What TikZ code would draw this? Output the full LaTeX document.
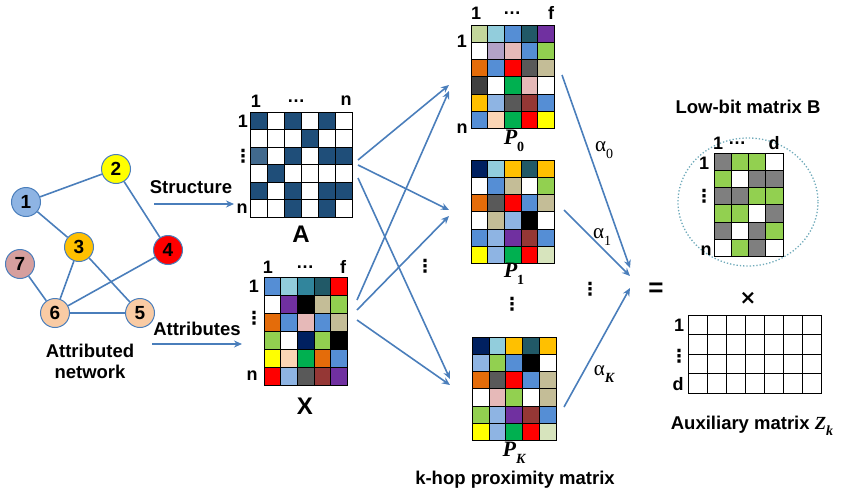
\documentclass[tikz,border=0pt]{standalone}
\usepackage{fontspec}
\setmainfont{Liberation Sans}
\newfontfamily\srf{Liberation Serif}
\newfontfamily\dv{DejaVu Sans}
\usetikzlibrary{arrows.meta,calc}
\definecolor{arr}{HTML}{4A7EBB}
\definecolor{dk}{HTML}{1F4E79}
\definecolor{cr}{HTML}{C3D69B}
\definecolor{lb}{HTML}{92CDDC}
\definecolor{mb}{HTML}{558ED5}
\definecolor{te}{HTML}{215967}
\definecolor{tt}{HTML}{31859C}
\definecolor{pu}{HTML}{7030A0}
\definecolor{wh}{HTML}{FFFFFF}
\definecolor{la}{HTML}{B3A2C7}
\definecolor{pk}{HTML}{E6B9B8}
\definecolor{li}{HTML}{92D050}
\definecolor{or}{HTML}{E46C0A}
\definecolor{rd}{HTML}{FF0000}
\definecolor{dg}{HTML}{595959}
\definecolor{ta}{HTML}{C4BD97}
\definecolor{ch}{HTML}{404040}
\definecolor{gr}{HTML}{00B050}
\definecolor{go}{HTML}{FFC000}
\definecolor{sk}{HTML}{8EB4E3}
\definecolor{pe}{HTML}{FBD5B5}
\definecolor{na}{HTML}{002060}
\definecolor{bk}{HTML}{000000}
\definecolor{br}{HTML}{953735}
\definecolor{ye}{HTML}{FFFF00}
\definecolor{cm}{HTML}{D7E4BD}
\definecolor{gy}{HTML}{7F7F7F}
\newcommand\drawmat[6]{%
  \foreach \rowl [count=\rr] in {#6} {
    \foreach \cc [count=\kk] in \rowl {
      \filldraw[fill=\cc,draw=black,line width=0.6pt] ({#2+(\kk-1)*#4},{#3+(\rr-1)*#5}) rectangle ++(#4,#5);
    }
  }
  \node[inner sep=0,minimum width=1pt,minimum height=1pt] (#1) at (#2,#3) {};
}
\newcommand\myvd{{\dv\bfseries ⋮}}
\newcommand\bsub[2]{{\srf\bfseries\itshape #1}\raisebox{-0.3em}{\srf\bfseries\fontsize{14}{14}\selectfont #2}}
\newcommand\bsubi[2]{{\srf\bfseries\itshape #1}\raisebox{-0.3em}{\srf\bfseries\itshape\fontsize{14}{14}\selectfont #2}}
\newcommand\asub[2]{{\srf #1}\raisebox{-0.3em}{\srf\fontsize{14}{14}\selectfont #2}}
\tikzset{
  gn/.style={circle,draw=arr,line width=1pt,minimum size=29pt,inner sep=0,font=\bfseries\fontsize{19}{21}\selectfont},
  ge/.style={arr,line width=1.6pt},
  ar/.style={arr,line width=1.6pt,-{Stealth[length=8pt,width=7pt]}},
  lab/.style={font=\bfseries\fontsize{18.5}{21}\selectfont,inner sep=1pt},
  idx/.style={font=\bfseries\fontsize{18}{20}\selectfont,inner sep=0},
  pl/.style={font=\fontsize{22}{24}\selectfont},
  al/.style={font=\fontsize{21}{23}\selectfont},
}
\begin{document}
\begin{tikzpicture}[x=1pt,y=-1pt]
\useasboundingbox (0,0) rectangle (846,498);
% graph
\node[gn,fill=sk] (n1) at (26,202) {1};
\node[gn,fill=ye] (n2) at (116,169) {2};
\node[gn,fill=go] (n3) at (79,247) {3};
\node[gn,fill=rd] (n4) at (168,250) {4};
\node[gn,fill=pk!80!br] (n7) at (20,264) {7};
\node[gn,fill=pe!90!or] (n6) at (55,313) {6};
\node[gn,fill=pe!90!or] (n5) at (140,313) {5};
\draw[ge] (n1)--(n2); \draw[ge] (n1)--(n3); \draw[ge] (n2)--(n4);
\draw[ge] (n3)--(n6); \draw[ge] (n3)--(n5); \draw[ge] (n4)--(n6);
\draw[ge] (n6)--(n5); \draw[ge] (n7)--(n6);
\node[lab,align=center] (an) at (90,361) {Attributed\\network};
\coordinate (s0) at (154,204); \coordinate (s1) at (234,204);
\draw[ar] (s0)--(s1);
\node[lab] (st) at (191,187) {Structure};
\coordinate (t0) at (152,344); \coordinate (t1) at (242,344);
\draw[ar] (t0)--(t1);
\node[lab] (at) at (197,329) {Attributes};
% A
\drawmat{A}{250}{112}{17}{17.5}{{dk,wh,dk,wh,dk,wh},{wh,wh,wh,dk,wh,wh},{dk!85!wh,wh,dk,wh,dk,dk},{wh,dk,wh,wh,wh,wh},{dk,wh,dk,wh,dk,dk},{wh,wh,dk,wh,dk,wh}}
\node[idx] (a1) at (256,101) {1}; \node[idx] (a2) at (296,101) {\dots}; \node[idx] (a3) at (346,101) {n};
\node[idx] (a4) at (243,121) {1}; \node[idx] (a5) at (243,156) {\myvd}; \node[idx] (a6) at (242,209) {n};
\node[font=\bfseries\fontsize{24}{26}\selectfont] (Al) at (301,234) {A};
% X
\drawmat{X}{264}{277}{16.6}{18}{{mb,lb,tt,te,rd},{wh,pu,bk,ta,li},{or,mb,pk,mb,ta},{li,wh,na,li,bk},{ye,pe,gr,or,mb},{rd,sk,dg,br,pu}}
\node[idx] (x1) at (268,267) {1}; \node[idx] (x2) at (305,267) {\dots}; \node[idx] (x3) at (343,267) {f};
\node[idx] (x4) at (254,286) {1}; \node[idx] (x5) at (254,318) {\myvd}; \node[idx] (x6) at (252,376) {n};
\node[font=\bfseries\fontsize{24}{26}\selectfont] (Xl) at (305,406) {X};
% P0
\drawmat{P0}{471}{25}{16.6}{17.2}{{cr,lb,mb,te,pu},{wh,la,pk,mb,li},{or,mb,rd,dg,ta},{ch,wh,gr,pk,wh},{go,sk,dg,br,mb},{mb,pe,gr,rd,ye}}
\node[idx] (p1) at (476,13) {1}; \node[idx] (p2) at (512,13) {\dots}; \node[idx] (p3) at (551,13) {f};
\node[idx] (p4) at (462,41) {1}; \node[idx] (p6) at (462,129) {n};
\node[pl] (P0l) at (514,141) {\bsub{P}{0}};
% P1
\drawmat{P1}{471}{160}{16.6}{17.2}{{na,lb,go,te,go},{wh,mb,ta,wh,li},{or,dg,rd,mb,ta},{wh,ta,sk,bk,wh},{mb,sk,pu,br,mb},{ye,sk,gr,rd,cm}}
\node[pl] (P1l) at (514,274) {\bsub{P}{1}};
\node[idx] (vd1) at (512,304) {\myvd};
% PK
\drawmat{PK}{472}{337}{16.8}{17.2}{{na,lb,go,te,go},{sk,li,mb,bk,wh},{or,dg,rd,mb,ta},{wh,pk,li,wh,ta},{li,sk,pu,br,mb},{ye,sk,gr,rd,cm}}
\node[pl] (PKl) at (514,453) {\bsubi{P}{K}};
\node[lab] (kh) at (515,480) {k-hop proximity matrix};
% arrows A/X -> P
\coordinate (e0) at (630,268); \coordinate (e1) at (630,276); \coordinate (e2) at (630,288);
\draw[ar] ($(A)+(108,48)$) -- ($(P0)+(-22,60)$);
\draw[ar] ($(A)+(108,53)$) -- ($(P1)+(-22,50)$);
\draw[ar] ($(A)+(108,66)$) -- ($(PK)+(-22,42)$);
\draw[ar] ($(X)+(93,23)$) -- ($(P0)+(-22,66)$);
\draw[ar] ($(X)+(93,33)$) -- ($(P1)+(-22,56)$);
\draw[ar] ($(X)+(93,43)$) -- ($(PK)+(-22,48)$);
\node[idx] (vd2) at (425,266) {\myvd};
\draw[ar] ($(P0)+(91,50)$) -- (e0);
\draw[ar] ($(P1)+(93,50)$) -- (e1);
\draw[ar] ($(PK)+(92,70)$) -- (e2);
\node[al] (al0) at (604,150) {\asub{α}{0}};
\node[al] (al1) at (602,237) {\asub{α}{1}};
\node[al] (alK) at (604,374) {{\srf α}\raisebox{-0.3em}{\srf\bfseries\itshape\fontsize{14}{14}\selectfont K}};
\node[idx] (vd3) at (590,289) {\myvd};
\node[font=\bfseries\fontsize{26}{28}\selectfont] (eq) at (656,290) {=};
% B
\node[lab] (Bl) at (748,107) {Low-bit matrix B};
\draw[tt!70!wh,line width=1.3pt,dotted] (748,202) ellipse (70 and 64);
\drawmat{B}{714}{153}{17.25}{17.2}{{gy,li,li,wh},{li,wh,gy,gy},{gy,gy,li,li},{li,li,wh,gy},{gy,wh,gy,li},{wh,li,gy,wh}}
\node[idx] (b1) at (718,143) {1}; \node[idx] (b2) at (737,143) {\dots}; \node[idx] (b3) at (774,143) {d};
\node[idx] (b4) at (704,163) {1}; \node[idx] (b5) at (704,196) {\myvd}; \node[idx] (b6) at (706,251) {n};
\node[font=\dv\bfseries\fontsize{20}{22}\selectfont] (tm) at (748,298) {×};
% Z
\drawmat{Z}{688}{315}{19.1}{19.5}{{wh,wh,wh,wh,wh,wh,wh},{wh,wh,wh,wh,wh,wh,wh},{wh,wh,wh,wh,wh,wh,wh},{wh,wh,wh,wh,wh,wh,wh}}
\node[idx] (z1) at (679,325) {1}; \node[idx] (z2) at (679,356) {\myvd}; \node[idx] (z3) at (678,384) {d};
\node[lab] (Zl) at (752,426) {Auxiliary matrix \bsubi{Z}{k}};
\end{tikzpicture}
\end{document}
